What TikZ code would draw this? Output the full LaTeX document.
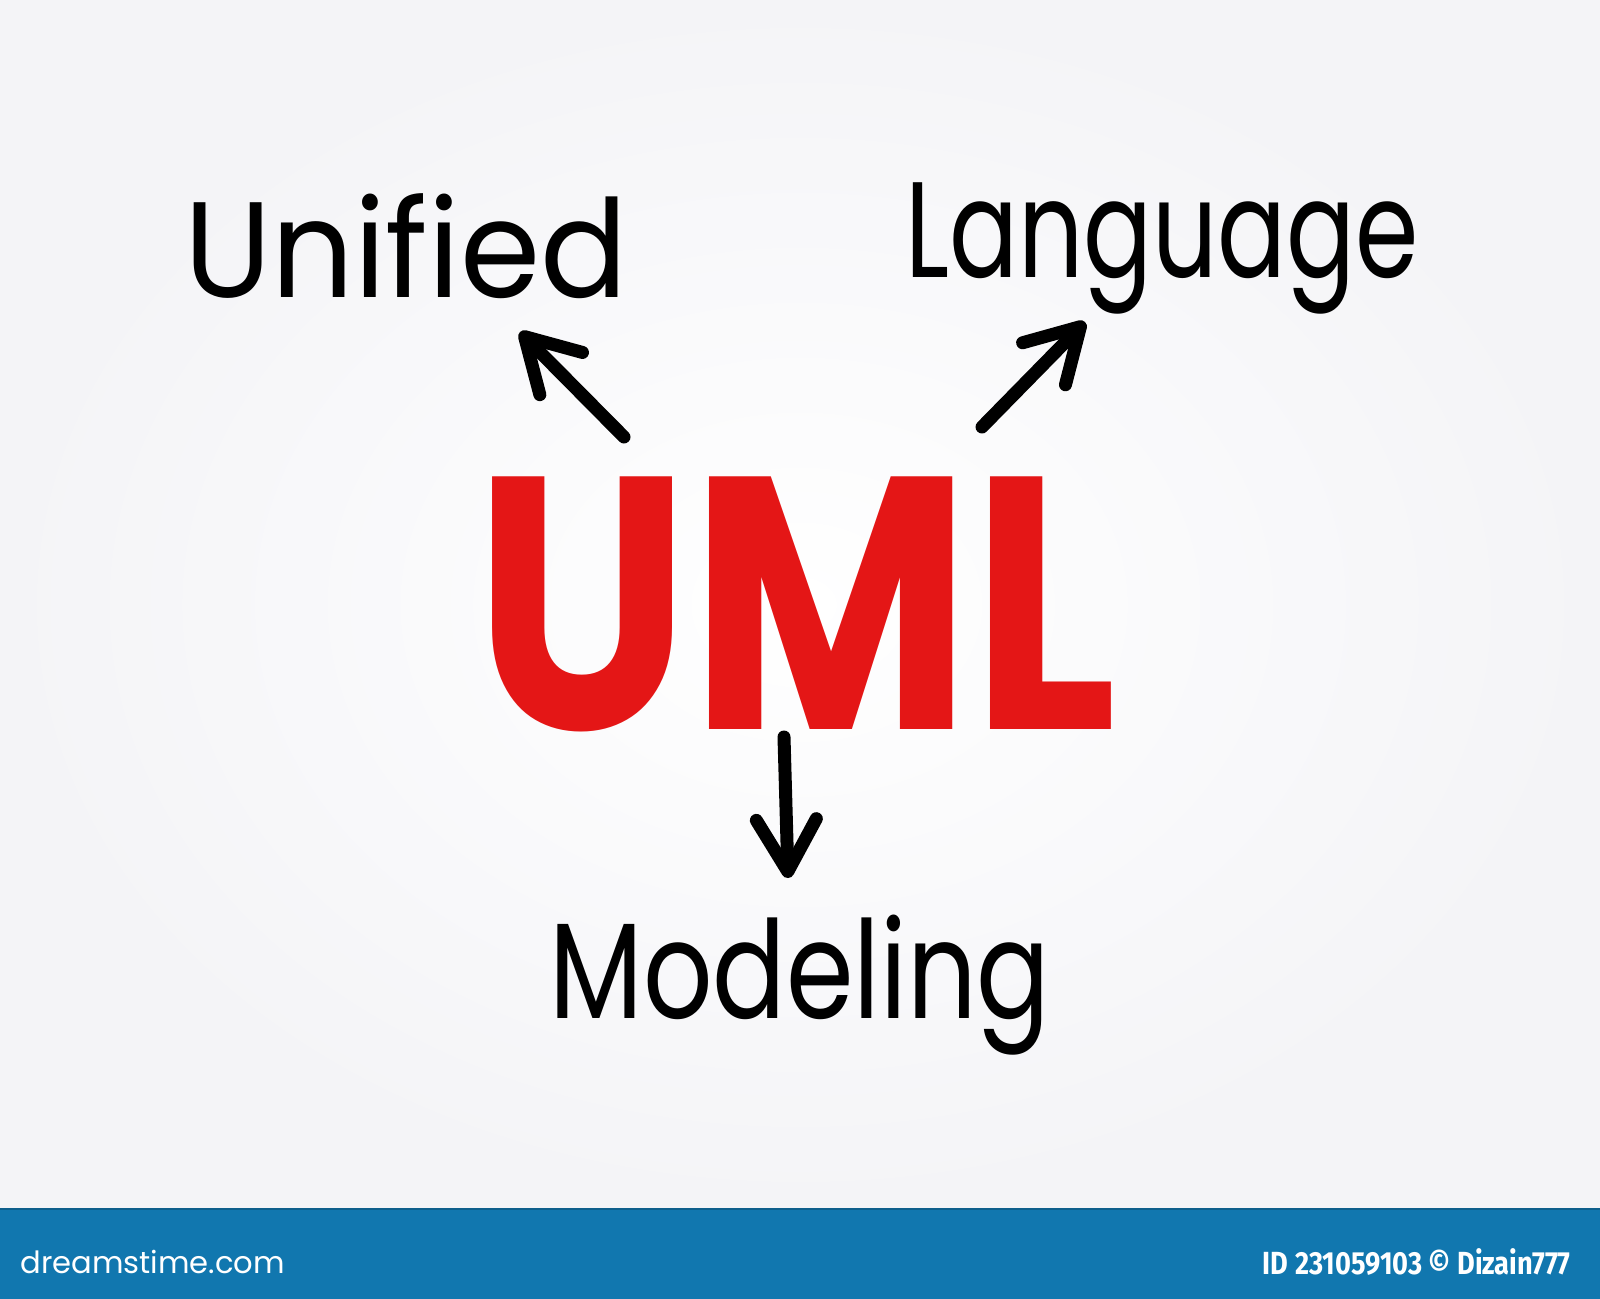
\documentclass[tikz,border=0pt]{standalone}
\usepackage{fontspec}
\setmainfont{Poppins}
\newfontfamily\barfont{Fira Sans}
\usetikzlibrary{arrows.meta}
\definecolor{barblue}{RGB}{17,119,175}
\definecolor{umlred}{RGB}{228,22,22}
\definecolor{bggray}{RGB}{244,244,247}
\tikzset{
  word/.style={inner sep=0pt, text=black},
  hand/.style={line width=6.5pt, line cap=round, line join=round,
    -{Straight Barb[round, length=26pt, width=30pt]}},
}
\begin{document}
\begin{tikzpicture}[x=0.5pt,y=-0.5pt]
\useasboundingbox (0,0) rectangle (1600,1299);
\shade[inner color=white, outer color=bggray] (0,0) rectangle (1600,1209);
\fill[barblue] (0,1209) rectangle (1600,1299);
\draw[barblue!80!black, line width=1pt] (0,1209) -- (1600,1209);

\node[word, font=\fontsize{68}{70}\selectfont, xscale=0.95] (unified) at (406,246) {Unified};
\node[word, font=\fontsize{68}{70}\selectfont, xscale=0.75] (language) at (1162,248) {Language};
\node[word, text=umlred, font=\fontsize{180}{180}\selectfont\bfseries, xscale=0.85] (uml) at (796,604) {UML};
\node[word, font=\fontsize{68}{70}\selectfont, xscale=0.8] (modeling) at (800,985) {Modeling};

\coordinate (lt) at (624,437);
\coordinate (lh) at (520,332);
\coordinate (rt) at (982,427);
\coordinate (rh) at (1085,322);
\coordinate (dt) at (784,737);
\coordinate (dh) at (788,878);
\draw[hand] (lt) -- (lh);
\draw[hand] (rt) -- (rh);
\draw[hand] (dt) -- (dh);

\node[anchor=west, text=white, inner sep=0pt, font=\fontsize{15.3}{16}\selectfont] (ds) at (20,1262) {dreamstime.com};
\node[anchor=east, text=white, inner sep=0pt, font=\barfont\fontsize{16}{16}\selectfont\bfseries, xscale=0.85] (id) at (1571,1262) {ID 231059103 © Dizain777};
\end{tikzpicture}
\end{document}
